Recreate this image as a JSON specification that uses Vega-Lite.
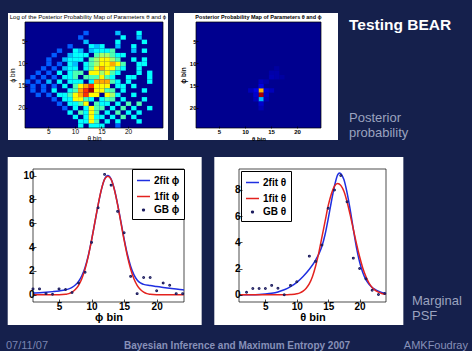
{
  "$schema": "https://vega.github.io/schema/vega-lite/v6.json",
  "background": "#15204c",
  "padding": {"left": 6, "top": 13, "right": 0, "bottom": 0},
  "spacing": 15,
  "resolve": {"scale": {"color": "independent"}},
  "config": {
    "view": {"stroke": null},
    "font": "Liberation Sans",
    "axis": {"zindex": 1, "grid": false, "domain": false, "labelOverlap": false, "tickColor": "black", "tickSize": -3, "tickWidth": 0.7, "labelColor": "black", "titleColor": "black", "labelFont": "Liberation Sans", "titleFont": "Liberation Sans"},
    "title": {"font": "Liberation Sans", "color": "black"}
  },
  "datasets": {
    "h1": [
      {"t":12,"p":3,"v":0.17},{"t":18,"p":3,"v":0.28},{"t":22,"p":3,"v":0.38},
      {"t":11,"p":4,"v":0.17},{"t":19,"p":4,"v":0.38},{"t":22,"p":4,"v":0.28},
      {"t":12,"p":5,"v":0.28},{"t":18,"p":5,"v":0.38},{"t":23,"p":5,"v":0.38},
      {"t":9,"p":6,"v":0.17},{"t":13,"p":6,"v":0.38},{"t":14,"p":6,"v":0.28},{"t":15,"p":6,"v":0.38},{"t":18,"p":6,"v":0.28},{"t":21,"p":6,"v":0.38},
      {"t":7,"p":7,"v":0.17},{"t":10,"p":7,"v":0.38},{"t":11,"p":7,"v":0.28},{"t":13,"p":7,"v":0.28},{"t":14,"p":7,"v":0.38},{"t":15,"p":7,"v":0.38},{"t":16,"p":7,"v":0.38},{"t":17,"p":7,"v":0.48},{"t":21,"p":7,"v":0.28},{"t":23,"p":7,"v":0.38},
      {"t":6,"p":8,"v":0.17},{"t":9,"p":8,"v":0.28},{"t":10,"p":8,"v":0.38},{"t":11,"p":8,"v":0.38},{"t":12,"p":8,"v":0.38},{"t":14,"p":8,"v":0.48},{"t":15,"p":8,"v":0.55},{"t":16,"p":8,"v":0.55},{"t":17,"p":8,"v":0.48},{"t":18,"p":8,"v":0.38},{"t":19,"p":8,"v":0.38},
      {"t":5,"p":9,"v":0.17},{"t":8,"p":9,"v":0.28},{"t":9,"p":9,"v":0.38},{"t":10,"p":9,"v":0.38},{"t":11,"p":9,"v":0.38},{"t":13,"p":9,"v":0.48},{"t":14,"p":9,"v":0.55},{"t":15,"p":9,"v":0.63},{"t":16,"p":9,"v":0.63},{"t":17,"p":9,"v":0.55},{"t":18,"p":9,"v":0.48},{"t":21,"p":9,"v":0.38},{"t":23,"p":9,"v":0.38},
      {"t":5,"p":10,"v":0.17},{"t":7,"p":10,"v":0.17},{"t":9,"p":10,"v":0.38},{"t":10,"p":10,"v":0.28},{"t":12,"p":10,"v":0.38},{"t":13,"p":10,"v":0.48},{"t":14,"p":10,"v":0.55},{"t":15,"p":10,"v":0.63},{"t":16,"p":10,"v":0.63},{"t":17,"p":10,"v":0.74},{"t":18,"p":10,"v":0.63},{"t":19,"p":10,"v":0.48},{"t":22,"p":10,"v":0.38},{"t":23,"p":10,"v":0.38},
      {"t":4,"p":11,"v":0.17},{"t":6,"p":11,"v":0.17},{"t":8,"p":11,"v":0.28},{"t":9,"p":11,"v":0.38},{"t":10,"p":11,"v":0.38},{"t":12,"p":11,"v":0.38},{"t":13,"p":11,"v":0.48},{"t":14,"p":11,"v":0.63},{"t":15,"p":11,"v":0.74},{"t":16,"p":11,"v":0.63},{"t":17,"p":11,"v":0.63},{"t":18,"p":11,"v":0.48},{"t":19,"p":11,"v":0.38},{"t":22,"p":11,"v":0.38},
      {"t":3,"p":12,"v":0.17},{"t":5,"p":12,"v":0.17},{"t":7,"p":12,"v":0.38},{"t":9,"p":12,"v":0.38},{"t":10,"p":12,"v":0.48},{"t":11,"p":12,"v":0.48},{"t":13,"p":12,"v":0.63},{"t":14,"p":12,"v":0.63},{"t":15,"p":12,"v":0.55},{"t":16,"p":12,"v":0.63},{"t":17,"p":12,"v":0.48},{"t":18,"p":12,"v":0.38},{"t":22,"p":12,"v":0.38},{"t":24,"p":12,"v":0.38},
      {"t":2,"p":13,"v":0.17},{"t":4,"p":13,"v":0.17},{"t":6,"p":13,"v":0.17},{"t":8,"p":13,"v":0.38},{"t":9,"p":13,"v":0.38},{"t":10,"p":13,"v":0.48},{"t":12,"p":13,"v":0.48},{"t":13,"p":13,"v":0.48},{"t":14,"p":13,"v":0.48},{"t":15,"p":13,"v":0.63},{"t":16,"p":13,"v":0.48},{"t":17,"p":13,"v":0.38},{"t":20,"p":13,"v":0.38},{"t":21,"p":13,"v":0.38},{"t":24,"p":13,"v":0.38},
      {"t":1,"p":14,"v":0.17},{"t":3,"p":14,"v":0.17},{"t":5,"p":14,"v":0.28},{"t":7,"p":14,"v":0.38},{"t":9,"p":14,"v":0.38},{"t":10,"p":14,"v":0.38},{"t":11,"p":14,"v":0.38},{"t":13,"p":14,"v":0.38},{"t":14,"p":14,"v":0.74},{"t":15,"p":14,"v":0.74},{"t":16,"p":14,"v":0.74},{"t":17,"p":14,"v":0.48},{"t":18,"p":14,"v":0.38},{"t":20,"p":14,"v":0.38},{"t":24,"p":14,"v":0.38},
      {"t":2,"p":15,"v":0.17},{"t":4,"p":15,"v":0.17},{"t":6,"p":15,"v":0.17},{"t":8,"p":15,"v":0.38},{"t":10,"p":15,"v":0.48},{"t":11,"p":15,"v":0.63},{"t":12,"p":15,"v":0.74},{"t":13,"p":15,"v":0.86},{"t":14,"p":15,"v":0.63},{"t":15,"p":15,"v":0.63},{"t":16,"p":15,"v":0.63},{"t":18,"p":15,"v":0.38},{"t":19,"p":15,"v":0.38},{"t":21,"p":15,"v":0.38},
      {"t":2,"p":16,"v":0.17},{"t":4,"p":16,"v":0.17},{"t":6,"p":16,"v":0.38},{"t":9,"p":16,"v":0.38},{"t":10,"p":16,"v":0.48},{"t":11,"p":16,"v":0.74},{"t":12,"p":16,"v":0.86},{"t":13,"p":16,"v":0.97},{"t":14,"p":16,"v":0.63},{"t":15,"p":16,"v":0.63},{"t":16,"p":16,"v":0.48},{"t":17,"p":16,"v":0.48},{"t":19,"p":16,"v":0.38},{"t":23,"p":16,"v":0.38},
      {"t":3,"p":17,"v":0.17},{"t":5,"p":17,"v":0.17},{"t":7,"p":17,"v":0.38},{"t":8,"p":17,"v":0.38},{"t":9,"p":17,"v":0.48},{"t":10,"p":17,"v":0.63},{"t":11,"p":17,"v":0.74},{"t":12,"p":17,"v":0.86},{"t":13,"p":17,"v":0.63},{"t":14,"p":17,"v":0.63},{"t":16,"p":17,"v":0.63},{"t":17,"p":17,"v":0.55},{"t":18,"p":17,"v":0.38},{"t":21,"p":17,"v":0.38},
      {"t":6,"p":18,"v":0.17},{"t":8,"p":18,"v":0.38},{"t":9,"p":18,"v":0.38},{"t":10,"p":18,"v":0.63},{"t":11,"p":18,"v":0.63},{"t":12,"p":18,"v":0.48},{"t":13,"p":18,"v":0.38},{"t":15,"p":18,"v":0.38},{"t":16,"p":18,"v":0.48},{"t":17,"p":18,"v":0.48},{"t":19,"p":18,"v":0.38},{"t":23,"p":18,"v":0.38},
      {"t":7,"p":19,"v":0.17},{"t":9,"p":19,"v":0.38},{"t":10,"p":19,"v":0.38},{"t":11,"p":19,"v":0.48},{"t":12,"p":19,"v":0.63},{"t":14,"p":19,"v":0.48},{"t":15,"p":19,"v":0.38},{"t":16,"p":19,"v":0.38},{"t":18,"p":19,"v":0.38},{"t":20,"p":19,"v":0.48},{"t":22,"p":19,"v":0.48},
      {"t":8,"p":20,"v":0.17},{"t":10,"p":20,"v":0.38},{"t":12,"p":20,"v":0.38},{"t":13,"p":20,"v":0.63},{"t":14,"p":20,"v":0.48},{"t":15,"p":20,"v":0.48},{"t":17,"p":20,"v":0.38},{"t":19,"p":20,"v":0.48},{"t":21,"p":20,"v":0.38},{"t":24,"p":20,"v":0.38},
      {"t":9,"p":21,"v":0.38},{"t":11,"p":21,"v":0.48},{"t":12,"p":21,"v":0.38},{"t":13,"p":21,"v":0.63},{"t":14,"p":21,"v":0.48},{"t":16,"p":21,"v":0.38},{"t":18,"p":21,"v":0.48},{"t":20,"p":21,"v":0.38},{"t":22,"p":21,"v":0.38},
      {"t":10,"p":22,"v":0.38},{"t":12,"p":22,"v":0.38},{"t":13,"p":22,"v":0.63},{"t":14,"p":22,"v":0.38},{"t":15,"p":22,"v":0.38},{"t":17,"p":22,"v":0.38},{"t":19,"p":22,"v":0.48},{"t":21,"p":22,"v":0.38},
      {"t":11,"p":23,"v":0.38},{"t":12,"p":23,"v":0.38},{"t":13,"p":23,"v":0.63},{"t":14,"p":23,"v":0.48},{"t":16,"p":23,"v":0.38},{"t":18,"p":23,"v":0.38},{"t":22,"p":23,"v":0.38},
      {"t":11,"p":24,"v":0.38},{"t":13,"p":24,"v":0.38},{"t":14,"p":24,"v":0.38},{"t":15,"p":24,"v":0.38},{"t":18,"p":24,"v":0.17}
    ],
    "h2": [
      {"t":13,"p":16,"v":0.72},{"t":13,"p":17,"v":0.96},{"t":13,"p":18,"v":0.27},
      {"t":12,"p":16,"v":0.1},{"t":14,"p":16,"v":0.08},{"t":11,"p":16,"v":0.05},{"t":15,"p":16,"v":0.05},
      {"t":13,"p":15,"v":0.09},{"t":13,"p":14,"v":0.05},{"t":13,"p":19,"v":0.07},{"t":13,"p":20,"v":0.04},
      {"t":12,"p":17,"v":0.07},{"t":14,"p":17,"v":0.06},{"t":12,"p":18,"v":0.05},{"t":14,"p":18,"v":0.04},
      {"t":15,"p":12,"v":0.03},{"t":16,"p":12,"v":0.03},{"t":15,"p":13,"v":0.04},{"t":16,"p":13,"v":0.03},{"t":14,"p":14,"v":0.03},{"t":17,"p":13,"v":0.02},{"t":16,"p":11,"v":0.02}
    ],
    "l1": [
      {"x":1,"v":0.15,"s":"2fit ϕ"},{"x":2,"v":0.18,"s":"2fit ϕ"},{"x":3,"v":0.22,"s":"2fit ϕ"},{"x":4,"v":0.27,"s":"2fit ϕ"},{"x":5,"v":0.33,"s":"2fit ϕ"},{"x":6,"v":0.42,"s":"2fit ϕ"},{"x":6.5,"v":0.5,"s":"2fit ϕ"},{"x":7,"v":0.62,"s":"2fit ϕ"},{"x":7.5,"v":0.82,"s":"2fit ϕ"},{"x":8,"v":1.12,"s":"2fit ϕ"},{"x":8.5,"v":1.6,"s":"2fit ϕ"},{"x":9,"v":2.3,"s":"2fit ϕ"},{"x":9.5,"v":3.3,"s":"2fit ϕ"},{"x":10,"v":4.6,"s":"2fit ϕ"},{"x":10.5,"v":6.05,"s":"2fit ϕ"},{"x":11,"v":7.5,"s":"2fit ϕ"},{"x":11.5,"v":8.8,"s":"2fit ϕ"},{"x":12,"v":9.7,"s":"2fit ϕ"},{"x":12.5,"v":10.0,"s":"2fit ϕ"},{"x":13,"v":9.7,"s":"2fit ϕ"},{"x":13.5,"v":8.85,"s":"2fit ϕ"},{"x":14,"v":7.6,"s":"2fit ϕ"},{"x":14.5,"v":6.15,"s":"2fit ϕ"},{"x":15,"v":4.7,"s":"2fit ϕ"},{"x":15.5,"v":3.4,"s":"2fit ϕ"},{"x":16,"v":2.4,"s":"2fit ϕ"},{"x":16.5,"v":1.7,"s":"2fit ϕ"},{"x":17,"v":1.25,"s":"2fit ϕ"},{"x":17.5,"v":1.0,"s":"2fit ϕ"},{"x":18,"v":0.88,"s":"2fit ϕ"},{"x":19,"v":0.78,"s":"2fit ϕ"},{"x":20,"v":0.7,"s":"2fit ϕ"},{"x":21,"v":0.62,"s":"2fit ϕ"},{"x":22,"v":0.55,"s":"2fit ϕ"},{"x":23,"v":0.48,"s":"2fit ϕ"},{"x":24,"v":0.42,"s":"2fit ϕ"},{"x":24.2,"v":0.41,"s":"2fit ϕ"},
      {"x":1,"v":0,"s":"1fit ϕ"},{"x":3,"v":0,"s":"1fit ϕ"},{"x":5,"v":0.01,"s":"1fit ϕ"},{"x":6,"v":0.05,"s":"1fit ϕ"},{"x":6.5,"v":0.1,"s":"1fit ϕ"},{"x":7,"v":0.23,"s":"1fit ϕ"},{"x":7.5,"v":0.44,"s":"1fit ϕ"},{"x":8,"v":0.8,"s":"1fit ϕ"},{"x":8.5,"v":1.35,"s":"1fit ϕ"},{"x":9,"v":2.16,"s":"1fit ϕ"},{"x":9.5,"v":3.25,"s":"1fit ϕ"},{"x":10,"v":4.58,"s":"1fit ϕ"},{"x":10.5,"v":6.07,"s":"1fit ϕ"},{"x":11,"v":7.55,"s":"1fit ϕ"},{"x":11.5,"v":8.82,"s":"1fit ϕ"},{"x":12,"v":9.69,"s":"1fit ϕ"},{"x":12.5,"v":9.95,"s":"1fit ϕ"},{"x":13,"v":9.69,"s":"1fit ϕ"},{"x":13.5,"v":8.82,"s":"1fit ϕ"},{"x":14,"v":7.55,"s":"1fit ϕ"},{"x":14.5,"v":6.07,"s":"1fit ϕ"},{"x":15,"v":4.58,"s":"1fit ϕ"},{"x":15.5,"v":3.25,"s":"1fit ϕ"},{"x":16,"v":2.16,"s":"1fit ϕ"},{"x":16.5,"v":1.35,"s":"1fit ϕ"},{"x":17,"v":0.8,"s":"1fit ϕ"},{"x":17.5,"v":0.44,"s":"1fit ϕ"},{"x":18,"v":0.23,"s":"1fit ϕ"},{"x":18.5,"v":0.1,"s":"1fit ϕ"},{"x":19,"v":0.05,"s":"1fit ϕ"},{"x":20,"v":0.01,"s":"1fit ϕ"},{"x":22,"v":0,"s":"1fit ϕ"},{"x":24.2,"v":0,"s":"1fit ϕ"}
    ],
    "l1pts": [
      {"x":1,"v":0.5,"s":"GB ϕ"},{"x":2,"v":0.5,"s":"GB ϕ"},{"x":3,"v":0.1,"s":"GB ϕ"},{"x":4,"v":0.05,"s":"GB ϕ"},{"x":5,"v":0.5,"s":"GB ϕ"},{"x":6,"v":0.45,"s":"GB ϕ"},{"x":7,"v":0.2,"s":"GB ϕ"},{"x":8,"v":1.0,"s":"GB ϕ"},{"x":9,"v":1.9,"s":"GB ϕ"},{"x":10,"v":4.4,"s":"GB ϕ"},{"x":11,"v":7.3,"s":"GB ϕ"},{"x":12,"v":10.1,"s":"GB ϕ"},{"x":13,"v":9.2,"s":"GB ϕ"},{"x":14,"v":7.0,"s":"GB ϕ"},{"x":15,"v":5.2,"s":"GB ϕ"},{"x":16,"v":1.55,"s":"GB ϕ"},{"x":17,"v":0.1,"s":"GB ϕ"},{"x":18,"v":1.45,"s":"GB ϕ"},{"x":19,"v":1.45,"s":"GB ϕ"},{"x":20,"v":0.35,"s":"GB ϕ"},{"x":21,"v":1.0,"s":"GB ϕ"},{"x":22,"v":0.8,"s":"GB ϕ"},{"x":23,"v":0.1,"s":"GB ϕ"},{"x":24,"v":0.1,"s":"GB ϕ"}
    ],
    "l2": [
      {"x":0.8,"v":0,"s":"2fit θ"},{"x":3,"v":0,"s":"2fit θ"},{"x":4,"v":0.02,"s":"2fit θ"},{"x":5,"v":0.06,"s":"2fit θ"},{"x":6,"v":0.12,"s":"2fit θ"},{"x":7,"v":0.22,"s":"2fit θ"},{"x":8,"v":0.38,"s":"2fit θ"},{"x":9,"v":0.62,"s":"2fit θ"},{"x":10,"v":0.95,"s":"2fit θ"},{"x":11,"v":1.4,"s":"2fit θ"},{"x":12,"v":1.95,"s":"2fit θ"},{"x":13,"v":2.65,"s":"2fit θ"},{"x":13.5,"v":3.1,"s":"2fit θ"},{"x":14,"v":3.7,"s":"2fit θ"},{"x":14.5,"v":4.6,"s":"2fit θ"},{"x":15,"v":5.8,"s":"2fit θ"},{"x":15.5,"v":7.1,"s":"2fit θ"},{"x":16,"v":8.3,"s":"2fit θ"},{"x":16.5,"v":9.15,"s":"2fit θ"},{"x":16.8,"v":9.3,"s":"2fit θ"},{"x":17,"v":9.25,"s":"2fit θ"},{"x":17.5,"v":8.8,"s":"2fit θ"},{"x":18,"v":7.8,"s":"2fit θ"},{"x":18.5,"v":6.5,"s":"2fit θ"},{"x":19,"v":5.0,"s":"2fit θ"},{"x":19.5,"v":3.6,"s":"2fit θ"},{"x":20,"v":2.5,"s":"2fit θ"},{"x":20.5,"v":1.7,"s":"2fit θ"},{"x":21,"v":1.15,"s":"2fit θ"},{"x":21.5,"v":0.8,"s":"2fit θ"},{"x":22,"v":0.55,"s":"2fit θ"},{"x":22.5,"v":0.4,"s":"2fit θ"},{"x":23,"v":0.28,"s":"2fit θ"},{"x":23.5,"v":0.18,"s":"2fit θ"},{"x":24.2,"v":0.1,"s":"2fit θ"},
      {"x":0.8,"v":0,"s":"1fit θ"},{"x":8,"v":0,"s":"1fit θ"},{"x":9,"v":0.02,"s":"1fit θ"},{"x":10,"v":0.08,"s":"1fit θ"},{"x":10.5,"v":0.15,"s":"1fit θ"},{"x":11,"v":0.28,"s":"1fit θ"},{"x":11.5,"v":0.5,"s":"1fit θ"},{"x":12,"v":0.85,"s":"1fit θ"},{"x":12.5,"v":1.4,"s":"1fit θ"},{"x":13,"v":2.2,"s":"1fit θ"},{"x":13.5,"v":3.2,"s":"1fit θ"},{"x":14,"v":4.4,"s":"1fit θ"},{"x":14.5,"v":5.6,"s":"1fit θ"},{"x":15,"v":6.8,"s":"1fit θ"},{"x":15.5,"v":7.7,"s":"1fit θ"},{"x":16,"v":8.3,"s":"1fit θ"},{"x":16.5,"v":8.5,"s":"1fit θ"},{"x":17,"v":8.35,"s":"1fit θ"},{"x":17.5,"v":7.9,"s":"1fit θ"},{"x":18,"v":7.1,"s":"1fit θ"},{"x":18.5,"v":6.1,"s":"1fit θ"},{"x":19,"v":5.0,"s":"1fit θ"},{"x":19.5,"v":3.9,"s":"1fit θ"},{"x":20,"v":2.9,"s":"1fit θ"},{"x":20.5,"v":2.05,"s":"1fit θ"},{"x":21,"v":1.4,"s":"1fit θ"},{"x":21.5,"v":0.9,"s":"1fit θ"},{"x":22,"v":0.55,"s":"1fit θ"},{"x":22.5,"v":0.33,"s":"1fit θ"},{"x":23,"v":0.2,"s":"1fit θ"},{"x":23.5,"v":0.1,"s":"1fit θ"},{"x":24.2,"v":0.05,"s":"1fit θ"}
    ],
    "l2pts": [
      {"x":2,"v":0.2,"s":"GB θ"},{"x":3,"v":0.48,"s":"GB θ"},{"x":4,"v":0.48,"s":"GB θ"},{"x":5,"v":0.48,"s":"GB θ"},{"x":6,"v":0.72,"s":"GB θ"},{"x":7,"v":0.5,"s":"GB θ"},{"x":8,"v":0.0,"s":"GB θ"},{"x":9,"v":0.72,"s":"GB θ"},{"x":10,"v":1.0,"s":"GB θ"},{"x":12,"v":2.95,"s":"GB θ"},{"x":13,"v":2.55,"s":"GB θ"},{"x":14,"v":3.8,"s":"GB θ"},{"x":15,"v":6.6,"s":"GB θ"},{"x":16,"v":8.0,"s":"GB θ"},{"x":17,"v":9.1,"s":"GB θ"},{"x":18,"v":7.1,"s":"GB θ"},{"x":19,"v":2.8,"s":"GB θ"},{"x":20,"v":2.0,"s":"GB θ"},{"x":21,"v":1.22,"s":"GB θ"},{"x":22,"v":0.35,"s":"GB θ"},{"x":23,"v":0.02,"s":"GB θ"},{"x":24,"v":0.1,"s":"GB θ"}
    ],
    "foot": [
      {"slot":"l","label":"07/11/07"},
      {"slot":"c","label":"Bayesian Inference and Maximum Entropy 2007"},
      {"slot":"r","label":"AMKFoudray"}
    ]
  },
  "vconcat": [
    {
      "spacing": 0,
      "resolve": {"scale": {"color": "independent"}},
      "hconcat": [
        {"width": 1, "height": 1, "data": {"values": [{"t": ""}]}, "mark": {"type": "text"}, "encoding": {"text": {"field": "t"}}},
        {
          "spacing": 6,
          "resolve": {"scale": {"color": "independent"}},
          "hconcat": [
            {
              "width": 138, "height": 106,
              "title": {"text": "Log of the Posterior Probability Map of Parameters θ and ϕ", "frame": "group", "anchor": "middle", "dx": -6, "offset": -7, "fontSize": 6, "fontWeight": "normal", "color": "black"},
              "resolve": {"scale": {"x": "independent", "y": "independent"}},
              "layer": [
                {
                  "data": {"values": [{"k": "frame"}]},
                  "layer": [
                    {"mark": {"type": "rect", "color": "white"},
                     "encoding": {"x": {"datum": -0.1232, "type": "quantitative", "scale": {"domain": [0, 1], "nice": false, "zero": false}, "axis": null}, "x2": {"datum": 1.0362}, "y": {"datum": -0.1132, "type": "quantitative", "scale": {"domain": [0, 1], "nice": false, "zero": false}, "axis": null}, "y2": {"datum": 1.0849}}},
                    {"mark": {"type": "rect", "color": "#00008f"},
                     "encoding": {"x": {"datum": 0, "type": "quantitative"}, "x2": {"datum": 1}, "y": {"datum": 0, "type": "quantitative"}, "y2": {"datum": 1}}}
                  ]
                },
                {
                  "data": {"name": "h1"},
                  "mark": {"type": "rect"},
                  "encoding": {
                    "x": {"field": "t", "type": "ordinal", "scale": {"domain": [1,2,3,4,5,6,7,8,9,10,11,12,13,14,15,16,17,18,19,20,21,22,23,24,25,26], "paddingInner": 0, "paddingOuter": 0},
                          "axis": {"orient": "bottom", "zindex": 2, "values": [5,10,15,20], "labelAngle": 0, "title": "θ bin", "labelFontSize": 6.5, "titleFontSize": 6.5, "titleFontWeight": "normal", "labelPadding": 2, "titlePadding": 1, "tickSize": -2}},
                    "y": {"field": "p", "type": "ordinal", "scale": {"domain": [1,2,3,4,5,6,7,8,9,10,11,12,13,14,15,16,17,18,19,20,21,22,23,24], "paddingInner": 0, "paddingOuter": 0},
                          "axis": {"orient": "left", "zindex": 2, "values": [5,10,15,20], "title": "ϕ bin", "labelFontSize": 6.5, "titleFontSize": 6.5, "titleFontWeight": "normal", "labelPadding": 2, "titlePadding": 2, "tickSize": -2}},
                    "color": {"field": "v", "type": "quantitative", "scale": {"domain": [0, 0.125, 0.375, 0.625, 0.875, 1], "range": ["#00008f", "#0000ff", "#00ffff", "#ffff00", "#ff0000", "#800000"]}, "legend": null}
                  }
                },
                {
                  "data": {"values": [{"k": "box"}]},
                  "mark": {"type": "rect", "filled": false, "color": "black", "strokeWidth": 0.7},
                  "encoding": {"x": {"datum": 0, "type": "quantitative", "scale": {"domain": [0, 1], "nice": false, "zero": false}, "axis": null}, "x2": {"datum": 1}, "y": {"datum": 0, "type": "quantitative", "scale": {"domain": [0, 1], "nice": false, "zero": false}, "axis": null}, "y2": {"datum": 1}}
                }
              ]
            },
            {
              "spacing": 8,
              "resolve": {"scale": {"color": "independent"}},
              "hconcat": [
                {
                  "width": 125, "height": 106,
                  "title": {"text": "Posterior Probability Map of Parameters θ and ϕ", "frame": "group", "anchor": "middle", "offset": -7, "fontSize": 5.5, "fontWeight": "bold", "color": "black"},
                  "resolve": {"scale": {"x": "independent", "y": "independent"}},
                  "layer": [
                    {
                      "data": {"values": [{"k": "frame"}]},
                      "layer": [
                        {"mark": {"type": "rect", "color": "white"},
                         "encoding": {"x": {"datum": -0.176, "type": "quantitative", "scale": {"domain": [0, 1], "nice": false, "zero": false}, "axis": null}, "x2": {"datum": 1.136}, "y": {"datum": -0.1132, "type": "quantitative", "scale": {"domain": [0, 1], "nice": false, "zero": false}, "axis": null}, "y2": {"datum": 1.0849}}},
                        {"mark": {"type": "rect", "color": "#00008f"},
                         "encoding": {"x": {"datum": 0, "type": "quantitative"}, "x2": {"datum": 1}, "y": {"datum": 0, "type": "quantitative"}, "y2": {"datum": 1}}}
                      ]
                    },
                    {
                      "data": {"name": "h2"},
                      "mark": {"type": "rect"},
                      "encoding": {
                        "x": {"field": "t", "type": "ordinal", "scale": {"domain": [1,2,3,4,5,6,7,8,9,10,11,12,13,14,15,16,17,18,19,20,21,22,23,24], "paddingInner": 0, "paddingOuter": 0},
                              "axis": {"orient": "bottom", "zindex": 2, "values": [5,10,15,20], "labelAngle": 0, "title": "θ bin", "labelFontSize": 6, "labelFontWeight": "bold", "titleFontSize": 6, "titleFontWeight": "bold", "labelPadding": 2, "titlePadding": 1, "tickSize": -2}},
                        "y": {"field": "p", "type": "ordinal", "scale": {"domain": [1,2,3,4,5,6,7,8,9,10,11,12,13,14,15,16,17,18,19,20,21,22,23,24], "paddingInner": 0, "paddingOuter": 0},
                              "axis": {"orient": "left", "zindex": 2, "values": [5,10,15,20], "title": "ϕ bin", "labelFontSize": 6, "labelFontWeight": "bold", "titleFontSize": 6.5, "titleFontWeight": "bold", "labelPadding": 2, "titlePadding": 3, "tickSize": -2}},
                        "color": {"field": "v", "type": "quantitative", "scale": {"domain": [0, 0.125, 0.375, 0.625, 0.875, 1], "range": ["#00008f", "#0000ff", "#00ffff", "#ffff00", "#ff0000", "#800000"]}, "legend": null}
                      }
                    },
                    {
                      "data": {"values": [{"k": "box"}]},
                      "mark": {"type": "rect", "filled": false, "color": "black", "strokeWidth": 0.7},
                      "encoding": {"x": {"datum": 0, "type": "quantitative", "scale": {"domain": [0, 1], "nice": false, "zero": false}, "axis": null}, "x2": {"datum": 1}, "y": {"datum": 0, "type": "quantitative", "scale": {"domain": [0, 1], "nice": false, "zero": false}, "axis": null}, "y2": {"datum": 1}}
                    }
                  ]
                },
                {
                  "width": 100, "height": 1,
                  "data": {"values": [{"t": ""}]},
                  "mark": {"type": "text"},
                  "encoding": {"text": {"field": "t"}},
                  "title": {"text": "Testing BEAR", "subtitle": ["Posterior", "probability"], "orient": "bottom", "anchor": "start", "dx": 3, "offset": -10, "fontSize": 15.5, "fontWeight": "bold", "color": "white", "subtitleFont": "Liberation Sans", "subtitleFontSize": 13, "subtitleFontWeight": "normal", "subtitleColor": "#9ba3bf", "subtitlePadding": 79, "subtitleLineHeight": 15}
                }
              ]
            }
          ]
        }
      ]
    },
    {
      "spacing": 0,
      "resolve": {"scale": {"color": "independent"}},
      "hconcat": [
        {"width": 1, "height": 1, "data": {"values": [{"t": ""}]}, "mark": {"type": "text"}, "encoding": {"text": {"field": "t"}}},
        {
          "spacing": 12,
          "resolve": {"scale": {"color": "independent", "shape": "independent", "size": "independent"}},
          "hconcat": [
            {
              "width": 151, "height": 133,
              "resolve": {"scale": {"x": "independent", "y": "independent"}},
              "layer": [
                {
                  "data": {"values": [{"k": "frame"}]},
                  "layer": [
                    {"mark": {"type": "rect", "color": "white"},
                     "encoding": {"x": {"datum": -0.1675, "type": "quantitative", "scale": {"domain": [0, 1], "nice": false, "zero": false}, "axis": null}, "x2": {"datum": 1.117}, "y": {"datum": -0.1729, "type": "quantitative", "scale": {"domain": [0, 1], "nice": false, "zero": false}, "axis": null}, "y2": {"datum": 1.0902}}},
                    {"mark": {"type": "rect", "filled": false, "color": "black", "strokeWidth": 0.7},
                     "encoding": {"x": {"datum": 0, "type": "quantitative"}, "x2": {"datum": 1}, "y": {"datum": 0, "type": "quantitative"}, "y2": {"datum": 1}}}
                  ]
                },
                {
                  "layer": [
                    {
                      "data": {"name": "l1"},
                      "mark": {"type": "line", "strokeWidth": 1.5, "interpolate": "monotone"},
                      "encoding": {
                        "x": {"field": "x", "type": "quantitative", "scale": {"domain": [1, 24.2], "nice": false, "zero": false},
                              "axis": {"orient": "bottom", "zindex": 2, "values": [5,10,15,20], "title": "ϕ bin", "labelFontSize": 10, "labelFontWeight": "bold", "titleFontSize": 11, "titleFontWeight": "bold", "labelPadding": 2, "titlePadding": 0, "labelOverlap": false}},
                        "y": {"field": "v", "type": "quantitative", "scale": {"domain": [-0.6, 10.55], "nice": false, "zero": false},
                              "axis": {"orient": "left", "zindex": 2, "values": [0,2,4,6,8,10], "title": null, "labelFontSize": 10, "labelFontWeight": "bold", "labelPadding": 2, "labelOverlap": false}},
                        "color": {"field": "s", "type": "nominal", "scale": {"domain": ["2fit ϕ", "1fit ϕ", "GB ϕ"], "range": ["#1f2fe0", "#e3221e", "#1b1b5e"]},
                                  "legend": {"orient": "top-right", "offset": 0, "title": null, "fillColor": "white", "strokeColor": "black", "padding": 4, "rowPadding": 3, "symbolSize": 169, "symbolStrokeWidth": 1.5, "labelFont": "Liberation Sans", "labelFontSize": 10, "labelFontWeight": "bold", "labelColor": "black", "labelOffset": 3}}
                      }
                    },
                    {
                      "data": {"name": "l1pts"},
                      "mark": {"type": "point", "filled": false, "strokeWidth": 1.2, "opacity": 1},
                      "encoding": {
                        "x": {"field": "x", "type": "quantitative",
                              "axis": {"orient": "bottom", "zindex": 2, "values": [5,10,15,20], "title": "ϕ bin", "labelFontSize": 10, "labelFontWeight": "bold", "titleFontSize": 11, "titleFontWeight": "bold", "labelPadding": 2, "titlePadding": 0, "labelOverlap": false}},
                        "y": {"field": "v", "type": "quantitative",
                              "axis": {"orient": "left", "zindex": 2, "values": [0,2,4,6,8,10], "title": null, "labelFontSize": 10, "labelFontWeight": "bold", "labelPadding": 2, "labelOverlap": false}},
                        "color": {"field": "s", "type": "nominal"},
                        "shape": {"field": "s", "type": "nominal", "scale": {"domain": ["2fit ϕ", "1fit ϕ", "GB ϕ"], "range": ["stroke", "stroke", "circle"]},
                                  "legend": {"orient": "top-right", "offset": 0, "title": null, "fillColor": "white", "strokeColor": "black", "padding": 4, "rowPadding": 3, "symbolStrokeWidth": 1.5, "labelFont": "Liberation Sans", "labelFontSize": 10, "labelFontWeight": "bold", "labelColor": "black", "labelOffset": 3}},
                        "size": {"field": "s", "type": "nominal", "scale": {"type": "ordinal", "domain": ["2fit ϕ", "1fit ϕ", "GB ϕ"], "range": [169, 169, 3]},
                                 "legend": {"orient": "top-right", "offset": 0, "title": null, "fillColor": "white", "strokeColor": "black", "padding": 4, "rowPadding": 3, "symbolStrokeWidth": 1.5, "labelFont": "Liberation Sans", "labelFontSize": 10, "labelFontWeight": "bold", "labelColor": "black", "labelOffset": 3}}
                      }
                    }
                  ]
                }
              ]
            },
            {
              "spacing": 8,
              "resolve": {"scale": {"color": "independent", "shape": "independent", "size": "independent"}},
              "hconcat": [
                {
                  "width": 147, "height": 133,
                  "resolve": {"scale": {"x": "independent", "y": "independent"}},
                  "layer": [
                    {
                      "data": {"values": [{"k": "frame"}]},
                      "layer": [
                        {"mark": {"type": "rect", "color": "white"},
                         "encoding": {"x": {"datum": -0.168, "type": "quantitative", "scale": {"domain": [0, 1], "nice": false, "zero": false}, "axis": null}, "x2": {"datum": 1.118}, "y": {"datum": -0.1729, "type": "quantitative", "scale": {"domain": [0, 1], "nice": false, "zero": false}, "axis": null}, "y2": {"datum": 1.0902}}},
                        {"mark": {"type": "rect", "filled": false, "color": "black", "strokeWidth": 0.7},
                         "encoding": {"x": {"datum": 0, "type": "quantitative"}, "x2": {"datum": 1}, "y": {"datum": 0, "type": "quantitative"}, "y2": {"datum": 1}}}
                      ]
                    },
                    {
                      "layer": [
                        {
                          "data": {"name": "l2"},
                          "mark": {"type": "line", "strokeWidth": 1.5, "interpolate": "monotone"},
                          "encoding": {
                            "x": {"field": "x", "type": "quantitative", "scale": {"domain": [0.8, 24.2], "nice": false, "zero": false},
                                  "axis": {"orient": "bottom", "zindex": 2, "values": [5,10,15,20], "title": "θ bin", "labelFontSize": 10, "labelFontWeight": "bold", "titleFontSize": 11, "titleFontWeight": "bold", "labelPadding": 2, "titlePadding": 0, "labelOverlap": false}},
                            "y": {"field": "v", "type": "quantitative", "scale": {"domain": [-0.55, 9.6], "nice": false, "zero": false},
                                  "axis": {"orient": "left", "zindex": 2, "values": [0,2,4,6,8], "title": null, "labelFontSize": 10, "labelFontWeight": "bold", "labelPadding": 2, "labelOverlap": false}},
                            "color": {"field": "s", "type": "nominal", "scale": {"domain": ["2fit θ", "1fit θ", "GB θ"], "range": ["#1f2fe0", "#e3221e", "#1b1b5e"]},
                                      "legend": {"orient": "top-left", "offset": 2, "title": null, "fillColor": "white", "strokeColor": "black", "padding": 4, "rowPadding": 3, "symbolSize": 169, "symbolStrokeWidth": 1.5, "labelFont": "Liberation Sans", "labelFontSize": 10, "labelFontWeight": "bold", "labelColor": "black", "labelOffset": 3}}
                          }
                        },
                        {
                          "data": {"name": "l2pts"},
                          "mark": {"type": "point", "filled": false, "strokeWidth": 1.2, "opacity": 1},
                          "encoding": {
                            "x": {"field": "x", "type": "quantitative",
                                  "axis": {"orient": "bottom", "zindex": 2, "values": [5,10,15,20], "title": "θ bin", "labelFontSize": 10, "labelFontWeight": "bold", "titleFontSize": 11, "titleFontWeight": "bold", "labelPadding": 2, "titlePadding": 0, "labelOverlap": false}},
                            "y": {"field": "v", "type": "quantitative",
                                  "axis": {"orient": "left", "zindex": 2, "values": [0,2,4,6,8], "title": null, "labelFontSize": 10, "labelFontWeight": "bold", "labelPadding": 2, "labelOverlap": false}},
                            "color": {"field": "s", "type": "nominal"},
                            "shape": {"field": "s", "type": "nominal", "scale": {"domain": ["2fit θ", "1fit θ", "GB θ"], "range": ["stroke", "stroke", "circle"]},
                                      "legend": {"orient": "top-left", "offset": 2, "title": null, "fillColor": "white", "strokeColor": "black", "padding": 4, "rowPadding": 3, "symbolStrokeWidth": 1.5, "labelFont": "Liberation Sans", "labelFontSize": 10, "labelFontWeight": "bold", "labelColor": "black", "labelOffset": 3}},
                            "size": {"field": "s", "type": "nominal", "scale": {"type": "ordinal", "domain": ["2fit θ", "1fit θ", "GB θ"], "range": [169, 169, 3]},
                                     "legend": {"orient": "top-left", "offset": 2, "title": null, "fillColor": "white", "strokeColor": "black", "padding": 4, "rowPadding": 3, "symbolStrokeWidth": 1.5, "labelFont": "Liberation Sans", "labelFontSize": 10, "labelFontWeight": "bold", "labelColor": "black", "labelOffset": 3}}
                          }
                        }
                      ]
                    }
                  ]
                },
                {
                  "width": 60, "height": 126,
                  "data": {"values": [{"t": ""}]},
                  "mark": {"type": "text"},
                  "encoding": {"text": {"field": "t"}},
                  "title": {"text": ["Marginal", "PSF"], "orient": "bottom", "anchor": "start", "offset": 0, "fontSize": 13, "fontWeight": "normal", "color": "#9ba3bf", "lineHeight": 15}
                }
              ]
            }
          ]
        }
      ]
    },
    {
      "width": 462, "height": 10,
      "data": {"name": "foot"},
      "encoding": {
        "x": {"field": "slot", "type": "nominal", "scale": {"type": "point", "padding": 0, "domain": ["l", "c", "r"]}, "axis": null},
        "text": {"field": "label"}
      },
      "layer": [
        {"transform": [{"filter": "datum.slot === 'l'"}], "mark": {"type": "text", "align": "left", "fontSize": 11, "color": "#7a85b0"}},
        {"transform": [{"filter": "datum.slot === 'c'"}], "mark": {"type": "text", "align": "center", "fontSize": 10, "fontWeight": "bold", "color": "#8790b8"}},
        {"transform": [{"filter": "datum.slot === 'r'"}], "mark": {"type": "text", "align": "right", "fontSize": 11, "color": "#8790b8"}}
      ]
    }
  ]
}
